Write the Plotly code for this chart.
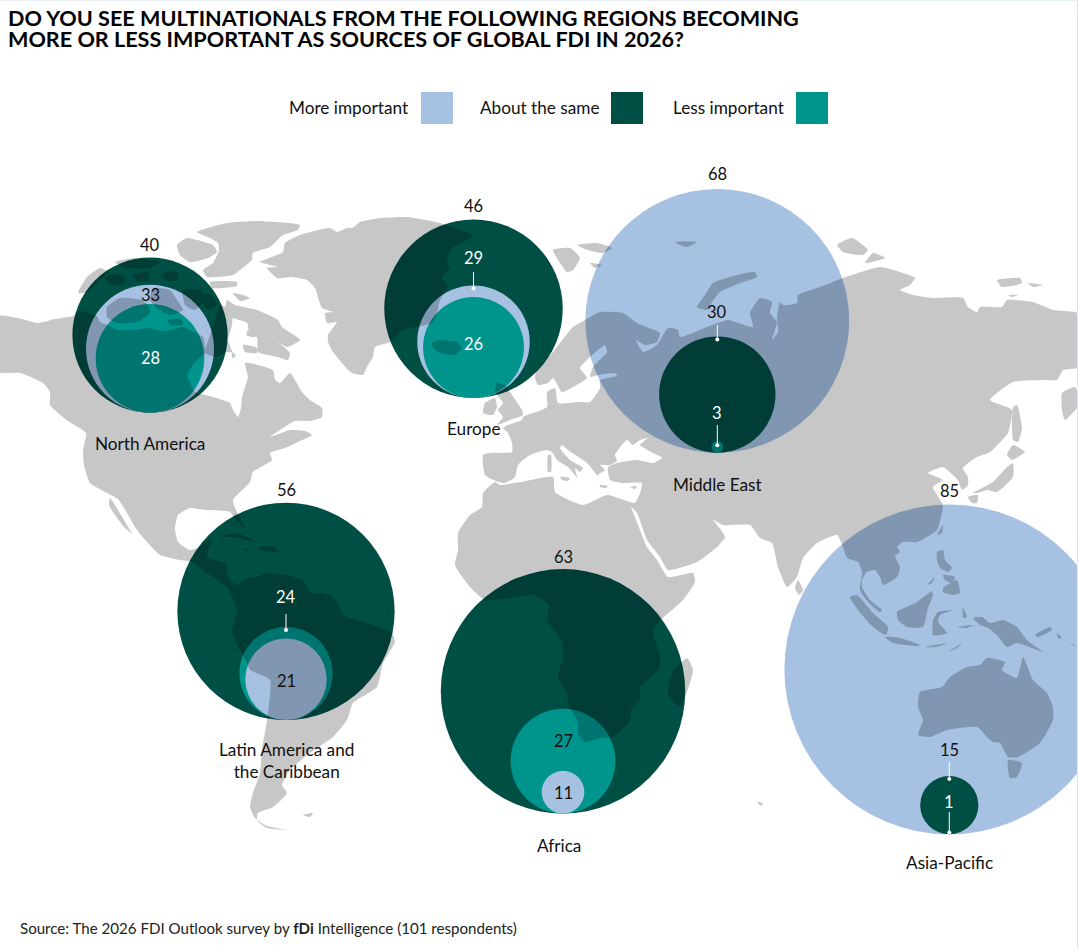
import plotly.graph_objects as go

# Survey results, one entry per region
regions = ["North America", "Europe", "Middle East", "Latin America and<br>the Caribbean", "Africa", "Asia-Pacific"]
more_important = [33, 29, 68, 21, 11, 85]
about_the_same = [40, 46, 30, 56, 63, 15]
less_important = [28, 26, 3, 24, 27, 1]

series_names = ["More important", "About the same", "Less important"]
series_colors = ["#a6c1e2", "#004f44", "#00958c"]

# Bubble layout: each region's circles rest on a common lowest point
center_x = [150, 473.5, 717.3, 286, 563, 949.3]
base_y = [412.7, 398, 452.8, 720, 813.5, 834.3]
name_x = [150, 473.5, 717, 286, 559, 949]
name_y = [443, 428.5, 484, 760, 845, 862]
PX_PER_UNIT = 1.94

# Vertical label positions, listed in the order more / same / less
label_y = {
    0: (295, 245, 358),
    1: (258, 206, 344),
    2: (174, 312, 413),
    3: (681, 490, 597),
    4: (793, 557, 741),
    5: (491, 750, 802),
}
label_color = {
    0: ("#111111", "#111111", "#ffffff"),
    1: ("#ffffff", "#111111", "#ffffff"),
    2: ("#111111", "#111111", "#ffffff"),
    3: ("#111111", "#111111", "#ffffff"),
    4: ("#111111", "#111111", "#111111"),
    5: ("#111111", "#111111", "#ffffff"),
}
# Leader lines: region index, series index, top of line
leaders = [(1, 0, 272), (2, 1, 325), (2, 2, 425), (3, 2, 614), (5, 1, 762), (5, 2, 812)]

# Coastline outlines for the backdrop, in page units
EURASIA_AFRICA = [
    (585, 320), (600, 312), (623, 313), (637, 323), (660, 333), (657, 342), (645, 345), (636, 340), (643, 352),
    (657, 345), (668, 328), (678, 330), (680, 337), (707, 327), (728, 320), (753, 327), (750, 313), (760, 298),
    (772, 302), (770, 313), (777, 322), (772, 340), (778, 332), (777, 317), (780, 302), (783, 305), (797, 303),
    (798, 295), (820, 287), (843, 278), (880, 267), (900, 272), (915, 278), (910, 285), (900, 290), (913, 295),
    (933, 298), (963, 298), (968, 307), (977, 312), (980, 307), (1002, 307), (1007, 300), (1033, 302), (1053, 310),
    (1075, 312), (1080, 315), (1080, 367), (1063, 370), (1057, 380), (1045, 380), (1013, 382), (990, 400), (1007, 407),
    (1012, 410), (1008, 433), (990, 452), (977, 457), (963, 468), (968, 477), (968, 485), (962, 490), (958, 480),
    (953, 475), (943, 467), (928, 473), (943, 480), (933, 487), (943, 505), (942, 513), (937, 530), (917, 542),
    (903, 542), (897, 547), (900, 552), (895, 556), (900, 567), (897, 577), (883, 585), (880, 577), (875, 570),
    (867, 572), (862, 580), (862, 587), (870, 600), (882, 610), (880, 612), (868, 602), (860, 590), (862, 572),
    (858, 562), (847, 558), (843, 547), (837, 535), (817, 543), (803, 558), (797, 577), (787, 587), (778, 567),
    (772, 543), (760, 538), (750, 525), (723, 525), (713, 520), (703, 527), (695, 525), (687, 508), (693, 512),
    (697, 522), (704, 516), (712, 519), (725, 537), (717, 547), (697, 562), (668, 570), (660, 557), (647, 540),
    (637, 513), (631, 507), (635, 517), (647, 547), (657, 560), (668, 577), (693, 573), (695, 582), (683, 600),
    (663, 618), (653, 630), (660, 657), (658, 670), (640, 687), (640, 700), (632, 707), (630, 720), (613, 737),
    (600, 738), (585, 742), (578, 733), (578, 723), (568, 703), (567, 693), (558, 677), (563, 657), (562, 642),
    (547, 620), (549, 605), (533, 595), (510, 598), (485, 600), (470, 587), (455, 565), (458, 550), (458, 533),
    (470, 515), (482, 507), (483, 493), (495, 482), (500, 485), (520, 482), (553, 477), (555, 492), (583, 505),
    (607, 495), (630, 502), (635, 503), (640, 493), (642, 483), (622, 483), (610, 480), (608, 467), (617, 463),
    (637, 460), (653, 463), (662, 458), (653, 453), (640, 445), (648, 438), (640, 440), (633, 445), (627, 440),
    (615, 455), (617, 461), (610, 465), (600, 465), (605, 470), (598, 475), (600, 477), (597, 475), (587, 463),
    (568, 450), (562, 445), (560, 448), (570, 460), (583, 468), (580, 472), (575, 468), (577, 477), (568, 467),
    (557, 460), (552, 452), (547, 450), (530, 455), (518, 465), (515, 477), (505, 483), (496, 481), (485, 475),
    (483, 455), (490, 453), (512, 452), (512, 443), (508, 433), (503, 428), (508, 425), (522, 420), (523, 417),
    (547, 407), (547, 392), (555, 388), (558, 403), (578, 402), (590, 402), (600, 388), (600, 380), (617, 376),
    (615, 373), (598, 375), (590, 377), (593, 367), (607, 352), (605, 345), (590, 357), (580, 368), (587, 378),
    (573, 387), (562, 392), (553, 378), (548, 383), (538, 385), (535, 377), (537, 370), (553, 352), (573, 327),
]
NORTH_AMERICA = [
    (-2, 316), (18, 318), (38, 323), (55, 319), (73, 316), (80, 311), (90, 313), (97, 316), (100, 322), (108, 325),
    (117, 330), (133, 330), (150, 328), (160, 331), (170, 330), (183, 327), (190, 330), (203, 337), (205, 353),
    (195, 362), (187, 375), (192, 387), (195, 392), (213, 397), (230, 403), (233, 410), (238, 417), (241, 408),
    (242, 397), (245, 387), (248, 377), (245, 363), (250, 363), (273, 370), (275, 380), (280, 383), (290, 373),
    (302, 392), (310, 400), (322, 408), (322, 417), (310, 421), (295, 421), (280, 430), (270, 437), (290, 430),
    (305, 431), (312, 435), (300, 441), (285, 448), (270, 453), (272, 460), (253, 472), (250, 482), (233, 500),
    (235, 508), (245, 528), (240, 525), (230, 512), (226, 511), (205, 510), (190, 508), (178, 515), (175, 528),
    (178, 542), (190, 550), (200, 547), (205, 542), (212, 540), (207, 553), (208, 558), (225, 563), (228, 577),
    (237, 585), (247, 578), (257, 577), (267, 573), (287, 575), (303, 580), (310, 592), (330, 595), (340, 607),
    (343, 615), (367, 623), (392, 633), (395, 642), (383, 663), (377, 687), (353, 703), (347, 720), (333, 737),
    (310, 753), (290, 770), (282, 785), (287, 793), (273, 807), (258, 813), (257, 820), (267, 828), (288, 830),
    (267, 826), (255, 818), (250, 807), (253, 793), (260, 773), (262, 750), (267, 720), (270, 680), (250, 670),
    (247, 663), (232, 633), (237, 610), (227, 587), (207, 573), (192, 562), (180, 560), (160, 555), (147, 542),
    (137, 530), (118, 499), (107, 493), (90, 483), (84, 465), (83, 450), (86, 433), (68, 421), (58, 413), (50, 405),
    (50, 392), (43, 383), (20, 373), (-2, 372),
]
ISLANDS = [
    # Baja California
    [(110, 498), (115, 505), (130, 530), (133, 534), (125, 528), (115, 515), (109, 505)],
    # Arctic Canada
    [(107, 307), (120, 298), (142, 300), (148, 305), (150, 313), (137, 322), (117, 323), (107, 317)],
    [(153, 288), (170, 290), (177, 300), (183, 310), (170, 315), (157, 308), (150, 300)],
    [(168, 320), (182, 319), (182, 325), (170, 325)],
    [(183, 290), (200, 290), (205, 300), (195, 310), (185, 305)],
    [(105, 278), (113, 274), (125, 277), (125, 283), (113, 285)],
    [(78, 293), (87, 277), (100, 268), (108, 272), (98, 282), (88, 292)],
    [(115, 262), (135, 258), (160, 262), (150, 268), (125, 268)],
    [(133, 275), (148, 272), (150, 280), (137, 282)],
    [(163, 273), (177, 272), (178, 280), (165, 280)],
    [(200, 295), (212, 295), (217, 305), (208, 310)],
    [(177, 245), (187, 238), (197, 240), (213, 245), (217, 252), (208, 258), (190, 262), (180, 255)],
    [(197, 232), (227, 223), (257, 221), (300, 225), (298, 230), (283, 235), (270, 247), (253, 253), (252, 260),
     (240, 270), (233, 275), (207, 277), (203, 270), (213, 263), (219, 250), (218, 243), (210, 238)],
    [(210, 282), (237, 282), (237, 286), (223, 288), (212, 288)],
    [(233, 293), (243, 295), (250, 298), (240, 301)],
    [(227, 300), (235, 305), (257, 310), (278, 320), (282, 327), (300, 340), (287, 347), (278, 342), (290, 353),
     (288, 360), (278, 357), (258, 352), (257, 337), (250, 337), (247, 323), (232, 318), (225, 316)],
    [(220, 305), (232, 312), (232, 325), (228, 340), (232, 352), (226, 352), (217, 357), (205, 353), (212, 330)],
    [(243, 345), (257, 348), (257, 353), (245, 352)],
    [(247, 331), (254, 332), (254, 336), (247, 336)],
    [(232, 352), (236, 356), (232, 358)],
    # Greenland and Iceland
    [(352, 228), (360, 222), (380, 218), (407, 217), (440, 223), (465, 232), (473, 235), (467, 240), (452, 248),
     (447, 260), (450, 268), (442, 277), (447, 287), (440, 300), (437, 313), (432, 323), (403, 330), (390, 342),
     (375, 347), (373, 357), (367, 367), (363, 375), (352, 373), (348, 370), (342, 363), (333, 352), (328, 342),
     (328, 335), (337, 322), (327, 323), (325, 313), (333, 312), (322, 308), (315, 288), (307, 280), (292, 277),
     (277, 278), (267, 268), (278, 267), (260, 262), (283, 252), (285, 243), (300, 235), (330, 228), (337, 232),
     (347, 228)],
    [(432, 343), (440, 340), (457, 342), (462, 348), (455, 355), (440, 353), (433, 348)],
    # Svalbard, Franz Josef Land, Novaya Zemlya and the Siberian Arctic
    [(553, 250), (570, 248), (580, 258), (573, 270), (567, 272), (560, 263)],
    [(577, 245), (597, 243), (612, 248), (603, 253), (587, 250)],
    [(590, 263), (602, 265), (595, 268)],
    [(675, 242), (697, 242), (687, 247), (680, 245)],
    [(697, 307), (705, 295), (713, 283), (730, 277), (755, 272), (757, 277), (740, 283), (720, 292), (712, 302), (707, 310)],
    [(837, 245), (852, 238), (868, 250), (863, 255), (843, 252)],
    [(865, 263), (873, 253), (885, 258)],
    [(997, 280), (1020, 278), (1022, 283), (1002, 287)],
    [(1028, 283), (1043, 285), (1033, 287)],
    [(1008, 295), (1018, 295), (1012, 297)],
    # British Isles and Mediterranean
    [(497, 383), (505, 385), (512, 395), (522, 410), (523, 415), (510, 420), (497, 425), (503, 417), (498, 410), (503, 403), (495, 392)],
    [(483, 413), (485, 403), (495, 398), (497, 407), (493, 415)],
    [(548, 455), (551, 455), (551, 472), (548, 472)],
    [(560, 477), (570, 478), (568, 481), (562, 480)],
    [(600, 485), (608, 486), (606, 488), (600, 487)],
    [(630, 487), (637, 486), (635, 489)],
    # Caribbean and South Atlantic
    [(220, 537), (237, 533), (257, 542), (247, 540), (235, 537)],
    [(257, 547), (275, 546), (277, 552), (260, 550)],
    [(242, 549), (250, 549), (248, 551)],
    [(303, 815), (313, 813), (310, 817)],
    # Indian Ocean
    [(687, 658), (693, 670), (680, 707), (668, 695), (672, 673)],
    [(757, 802), (763, 803), (761, 806)],
    [(795, 588), (798, 580), (803, 590), (799, 595)],
    # Japan, Sakhalin, Kamchatka, Taiwan
    [(973, 493), (993, 482), (1007, 467), (1013, 463), (1013, 477), (997, 492), (987, 490), (978, 493)],
    [(968, 497), (978, 495), (977, 503), (972, 503)],
    [(1007, 455), (1013, 445), (1025, 452), (1018, 457), (1012, 460)],
    [(1013, 407), (1017, 405), (1022, 428), (1018, 442), (1013, 440)],
    [(1062, 393), (1075, 387), (1080, 403), (1065, 420), (1062, 410)],
    [(937, 535), (943, 525), (942, 533)],
    # Southeast Asia
    [(850, 597), (857, 595), (873, 613), (888, 627), (886, 635), (873, 627), (858, 610)],
    [(885, 637), (900, 638), (920, 645), (917, 646), (893, 643)],
    [(897, 612), (917, 602), (932, 591), (933, 595), (928, 608), (923, 627), (907, 627), (898, 620)],
    [(933, 620), (938, 612), (953, 610), (940, 615), (938, 622), (947, 633), (940, 635), (933, 635)],
    [(937, 552), (943, 550), (945, 560), (952, 568), (948, 572), (940, 568), (937, 560)],
    [(943, 588), (957, 580), (960, 593), (953, 595), (943, 592)],
    [(943, 575), (955, 577), (952, 583), (945, 580)],
    [(927, 585), (935, 577), (932, 583)],
    [(963, 608), (967, 617), (963, 618)],
    [(948, 652), (962, 643), (957, 648)],
    [(925, 647), (947, 643), (937, 647)],
    [(957, 627), (973, 625), (967, 628)],
    # New Guinea and neighbours
    [(973, 618), (982, 617), (990, 623), (1003, 620), (1017, 627), (1027, 640), (1043, 652), (1032, 648),
     (1017, 643), (1007, 647), (997, 635), (988, 628), (980, 625)],
    [(1035, 635), (1050, 627), (1052, 630), (1038, 637)],
    [(1057, 633), (1062, 638), (1058, 638)],
    [(1070, 642), (1077, 647), (1073, 645)],
    # Australia and Tasmania
    [(920, 692), (942, 687), (950, 677), (967, 667), (980, 665), (987, 658), (1005, 662), (1002, 670), (1017, 678),
     (1023, 657), (1033, 680), (1047, 693), (1053, 707), (1053, 720), (1040, 743), (1018, 757), (1008, 757),
     (1000, 743), (993, 742), (987, 737), (977, 727), (947, 730), (930, 737), (918, 735), (923, 720), (918, 707)],
    [(1008, 760), (1022, 763), (1017, 777), (1010, 778)],
]

all_shapes = [EURASIA_AFRICA, NORTH_AMERICA] + ISLANDS
map_x, map_y = [], []
for ring in all_shapes:
    map_x += [p[0] for p in ring] + [ring[0][0], None]
    map_y += [p[1] for p in ring] + [ring[0][1], None]

# One marker per answer, biggest first within each region so smaller ones stay visible
bx, by, bsize, bcolor = [], [], [], []
for i in range(len(regions)):
    answers = [(more_important[i], 0), (about_the_same[i], 1), (less_important[i], 2)]
    for value, s in sorted(answers, reverse=True):
        bx.append(center_x[i])
        by.append(base_y[i] - value * PX_PER_UNIT)
        bsize.append(value * PX_PER_UNIT * 2)
        bcolor.append(series_colors[s])

fig = go.Figure()
fig.add_trace(go.Scatter(
    x=bx, y=by, mode="markers", hoverinfo="skip", showlegend=False, cliponaxis=True,
    marker=dict(size=bsize, sizemode="diameter", color=bcolor, opacity=1, line=dict(width=0)),
))

# The land darkens whatever sits under it, so it goes above the bubbles as a translucent layer
fig.add_trace(go.Scatter(
    x=map_x, y=map_y, mode="lines", fill="toself", fillcolor="rgba(0,2,6,0.22)",
    line=dict(width=0, shape="spline", smoothing=0.5), hoverinfo="skip", showlegend=False,
))

values_by_series = [more_important, about_the_same, less_important]
for i, s, top in leaders:
    value = values_by_series[s][i]
    end = base_y[i] - 2 * value * PX_PER_UNIT + 3
    if value <= 3:
        end = base_y[i] - 2 * value * PX_PER_UNIT + 1 + value
    fig.add_trace(go.Scatter(
        x=[center_x[i], center_x[i]], y=[top, end], mode="lines",
        line=dict(color="#ffffff", width=1), hoverinfo="skip", showlegend=False,
    ))
    fig.add_trace(go.Scatter(
        x=[center_x[i]], y=[end], mode="markers",
        marker=dict(color="#ffffff", size=4, line=dict(width=0)), hoverinfo="skip", showlegend=False,
    ))

# Legend swatches
swatch_x = [437, 627, 812]
fig.add_trace(go.Scatter(
    x=swatch_x, y=[108, 108, 108], mode="markers", hoverinfo="skip", showlegend=False,
    marker=dict(symbol="square", size=32, color=series_colors, line=dict(width=0)),
))

FONT = "Lato"
anns = []
def label(x, y, text, size=17.2, color="#111111", anchor="center", align="center"):
    anns.append(dict(x=x, y=y, xref="x", yref="y", text=text, showarrow=False, xanchor=anchor, yanchor="middle",
                     align=align, font=dict(family=FONT, size=size, color=color)))

for i in range(len(regions)):
    label(name_x[i], name_y[i], regions[i])
    for s in range(3):
        label(center_x[i], label_y[i][s], str(values_by_series[s][i]), size=16.5, color=label_color[i][s])

legend_right = [410, 602, 786]
for name, xr in zip(series_names, legend_right):
    label(xr, 107, name, anchor="right")

label(6, 18, "<b>DO YOU SEE MULTINATIONALS FROM THE FOLLOWING REGIONS BECOMING</b>",
      size=21.6, color="#000000", anchor="left", align="left")
label(6, 39, "<b>MORE OR LESS IMPORTANT AS SOURCES OF GLOBAL FDI IN 2026?</b>",
      size=21.6, color="#000000", anchor="left", align="left")
label(18, 928, "Source: The 2026 FDI Outlook survey by <b>fDi</b> Intelligence (101 respondents)",
      size=15.1, color="#222222", anchor="left")

fig.update_layout(
    width=1078, height=949, margin=dict(l=0, r=0, t=0, b=0, pad=0),
    paper_bgcolor="#ffffff", plot_bgcolor="#ffffff", annotations=anns,
    xaxis=dict(range=[0, 1078], visible=False, fixedrange=True),
    yaxis=dict(range=[949, 0], visible=False, fixedrange=True),
    shapes=[
        dict(type="line", xref="x", yref="y", x0=0, x1=1078, y0=0.5, y1=0.5, line=dict(color="#e6edf7", width=1)),
        dict(type="line", xref="x", yref="y", x0=1077.5, x1=1077.5, y0=0, y1=949, line=dict(color="#dde6f3", width=1)),
    ],
)
fig.write_html("out.html", config=dict(displayModeBar=False))
